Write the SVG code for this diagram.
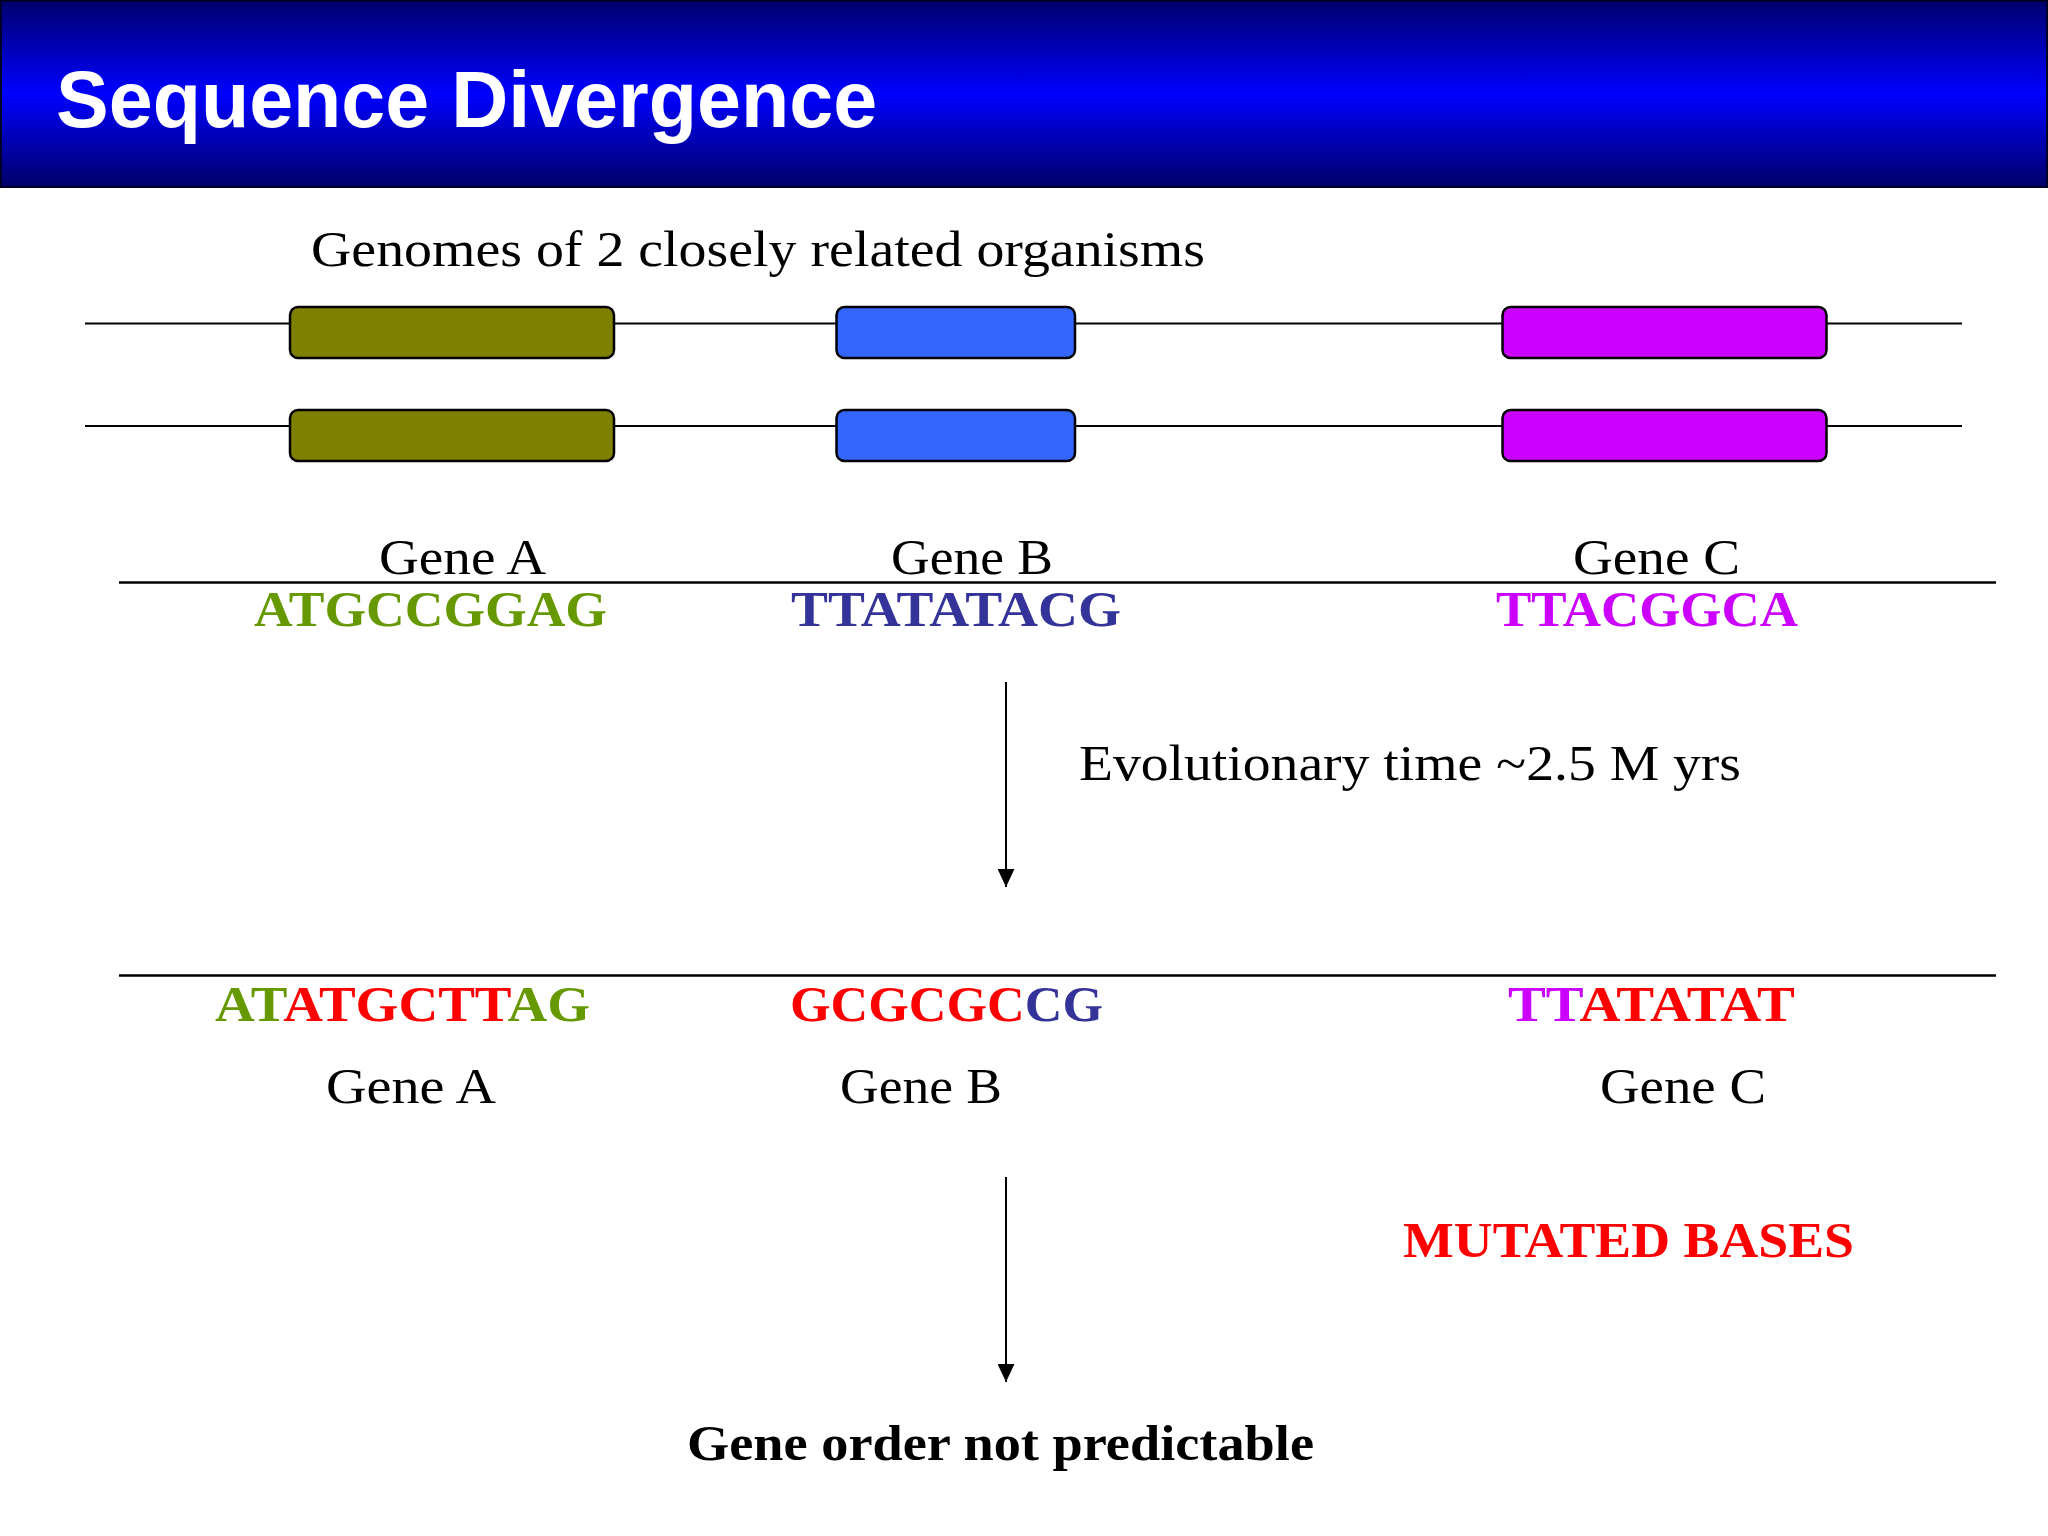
<svg xmlns="http://www.w3.org/2000/svg" width="2048" height="1536" viewBox="0 0 2048 1536">
  <defs>
    <linearGradient id="hdr" x1="0" y1="0" x2="0" y2="1">
      <stop offset="0" stop-color="#00006e"/>
      <stop offset="0.5" stop-color="#0000ff"/>
      <stop offset="1" stop-color="#000068"/>
    </linearGradient>
    <marker id="arr" markerUnits="userSpaceOnUse" markerWidth="18" markerHeight="17" viewBox="0 0 17 16" refX="17" refY="8" orient="auto">
      <path d="M0,0 L17,8 L0,16 Z" fill="#000"/>
    </marker>
  </defs>
  <style>
    .serif { font-family: "Liberation Serif", "DejaVu Serif", serif; font-size: 51px; fill: #000; }
    .bold { font-weight: bold; }
    .gene { stroke: #000; stroke-width: 2.5; }
    .chrom { stroke: #000; stroke-width: 2; fill: none; }
    .sep { stroke: #000; stroke-width: 2.5; fill: none; }
    .arrow { stroke: #000; stroke-width: 2; fill: none; }
    .green { fill: #669900; }
    .red { fill: #ff0000; }
    .navy { fill: #333399; }
    .mag { fill: #cc00ff; }
  </style>

  <rect width="2048" height="1536" fill="#ffffff"/>

  <g id="header">
    <rect x="1" y="1" width="2046" height="186" fill="url(#hdr)" stroke="#00002a" stroke-width="2"/>
    <text x="56" y="127" font-family="Liberation Sans, Arial, sans-serif" font-weight="bold" font-size="79" fill="#ffffff">Sequence Divergence</text>
  </g>

  <text class="serif" x="311" y="266" textLength="894" lengthAdjust="spacingAndGlyphs">Genomes of 2 closely related organisms</text>

  <g id="chromosomes">
    <line class="chrom" x1="85" y1="323.5" x2="1962" y2="323.5"/>
    <line class="chrom" x1="85" y1="426" x2="1962" y2="426"/>
  </g>

  <g id="geneA-top"><rect class="gene" x="290" y="307" width="324" height="51" rx="8" fill="#808000"/></g>
  <g id="geneB-top"><rect class="gene" x="836.5" y="307" width="238.5" height="51" rx="8" fill="#3366ff"/></g>
  <g id="geneC-top"><rect class="gene" x="1502.5" y="307" width="324" height="51" rx="8" fill="#cc00ff"/></g>
  <g id="geneA-bottom"><rect class="gene" x="290" y="410" width="324" height="51" rx="8" fill="#808000"/></g>
  <g id="geneB-bottom"><rect class="gene" x="836.5" y="410" width="238.5" height="51" rx="8" fill="#3366ff"/></g>
  <g id="geneC-bottom"><rect class="gene" x="1502.5" y="410" width="324" height="51" rx="8" fill="#cc00ff"/></g>

  <g id="labels-top">
    <text class="serif" x="379" y="574" textLength="167" lengthAdjust="spacingAndGlyphs">Gene A</text>
    <text class="serif" x="891" y="574" textLength="162" lengthAdjust="spacingAndGlyphs">Gene B</text>
    <text class="serif" x="1573" y="574" textLength="167" lengthAdjust="spacingAndGlyphs">Gene C</text>
  </g>

  <line class="sep" x1="119" y1="582.5" x2="1996" y2="582.5"/>

  <g id="seq-top">
    <text class="serif bold green" x="254" y="626" textLength="353" lengthAdjust="spacingAndGlyphs">ATGCCGGAG</text>
    <text class="serif bold navy" x="791" y="626" textLength="330" lengthAdjust="spacingAndGlyphs">TTATATACG</text>
    <text class="serif bold mag" x="1496" y="626" textLength="302" lengthAdjust="spacingAndGlyphs">TTACGGCA</text>
  </g>

  <text class="serif" x="1079" y="780" textLength="662" lengthAdjust="spacingAndGlyphs">Evolutionary time ~2.5 M yrs</text>

  <line class="sep" x1="119" y1="975.5" x2="1996" y2="975.5"/>

  <g id="seq-bottom">
    <text class="serif bold" x="215" y="1021" textLength="375" lengthAdjust="spacingAndGlyphs"><tspan class="green">AT</tspan><tspan class="red">ATGCTT</tspan><tspan class="green">AG</tspan></text>
    <text class="serif bold" x="790" y="1021" textLength="313" lengthAdjust="spacingAndGlyphs"><tspan class="red">GCGCGC</tspan><tspan class="navy">CG</tspan></text>
    <text class="serif bold" x="1508" y="1021" textLength="287" lengthAdjust="spacingAndGlyphs"><tspan class="mag">TT</tspan><tspan class="red">ATATAT</tspan></text>
  </g>

  <g id="labels-bottom">
    <text class="serif" x="326" y="1103" textLength="170" lengthAdjust="spacingAndGlyphs">Gene A</text>
    <text class="serif" x="840" y="1103" textLength="162" lengthAdjust="spacingAndGlyphs">Gene B</text>
    <text class="serif" x="1600" y="1103" textLength="166" lengthAdjust="spacingAndGlyphs">Gene C</text>
  </g>

  <text class="serif bold red" x="1403" y="1257" textLength="451" lengthAdjust="spacingAndGlyphs">MUTATED BASES</text>

  <g id="connectors">
    <line class="arrow" x1="1006" y1="682" x2="1006" y2="887" marker-end="url(#arr)"/>
    <line class="arrow" x1="1006" y1="1177" x2="1006" y2="1382" marker-end="url(#arr)"/>
  </g>

  <text class="serif bold" x="687" y="1460" textLength="627" lengthAdjust="spacingAndGlyphs">Gene order not predictable</text>
</svg>
